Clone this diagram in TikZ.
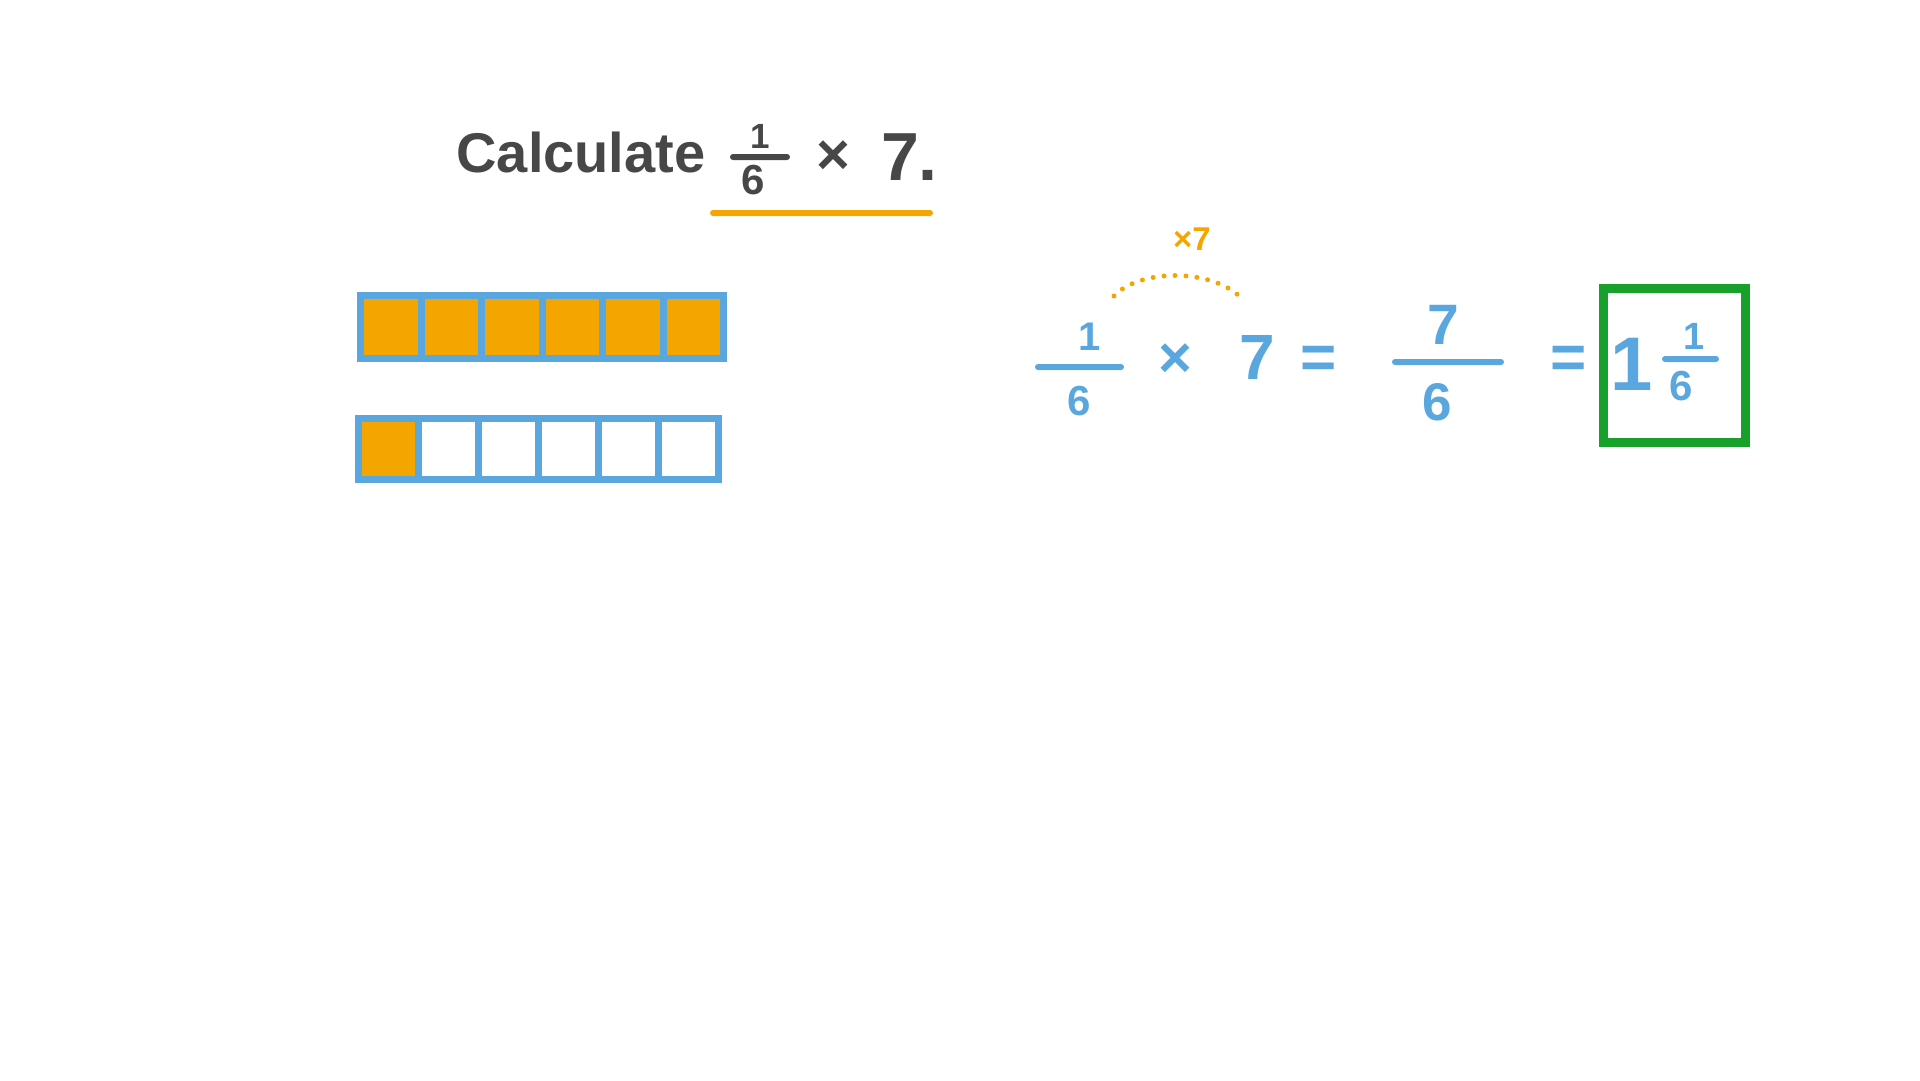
\documentclass[tikz,border=0pt]{standalone}
\usepackage{fontspec}
\setmainfont{Liberation Sans}
\usepackage{tikz}
\usetikzlibrary{positioning}
\definecolor{Chalk}{HTML}{474747}
\definecolor{Sky}{HTML}{5AA6DE}
\definecolor{Gold}{HTML}{F5A500}
\definecolor{Leaf}{HTML}{17A12B}
\tikzset{
 ink/.style={inner sep=0pt,outer sep=0pt},
 headtxt/.style={ink,text=Chalk,font=\bfseries\fontsize{#1}{#1}\selectfont},
 sumtxt/.style={ink,text=Sky,font=\bfseries\fontsize{#1}{#1}\selectfont},
 hinttxt/.style={ink,text=Gold,font=\bfseries\fontsize{#1}{#1}\selectfont},
 cell/.style={draw=Sky,line width=7pt,inner sep=0pt,minimum width=60.5pt,minimum height=63pt},
 fullcell/.style={cell,fill=Gold},
 emptycell/.style={cell,fill=white},
 fracbar/.style={ink,fill=Sky,rounded corners=3pt,minimum height=6pt},
 dots/.style={draw=Gold,line width=5pt,line cap=round,dash pattern=on 0pt off 11pt},
 answerbox/.style={draw=Leaf,line width=9pt,inner sep=0pt,minimum width=142pt,minimum height=154pt}
}

\begin{document}
\begin{tikzpicture}[x=1pt,y=-1pt]
\useasboundingbox (0,0) rectangle (1920,1080);
% question
\node[headtxt=56] (calc) at (581,152) {Calculate};
\node[fracbar,fill=Chalk,minimum width=60pt] (qbar) at (760,157) {};
\node[headtxt=35] (qnum) at (760,136) {1};
\node[headtxt=42] (qden) at (753,180) {6};
\node[headtxt=58] (qmul) at (833,158) {×};
\node[headtxt=68,anchor=west] (qseven) at (881,157.5) {7.};
\node[fracbar,fill=Gold,minimum width=223pt] (uline) at (821.5,213) {};
% bar models
\foreach \i in {1,...,6}
  \node[fullcell] (top\i) at ({360.5+60.5*(\i-0.5)},327) {};
\node[fullcell,minimum width=60pt,minimum height=61pt] (bot1) at (388.5,449) {};
\foreach \i in {2,...,6}
  \node[emptycell,minimum width=60pt,minimum height=61pt] (bot\i) at ({358.5+60*(\i-0.5)},449) {};
% working
\node[fracbar,minimum width=89pt] (abar) at (1079.5,367) {};
\node[sumtxt=40] (anum) at (1090,337) {1};
\node[sumtxt=42] (aden) at (1079,401) {6};
\node[sumtxt=58] (amul) at (1175,361) {×};
\node[sumtxt=64] (aseven) at (1257,357) {7};
\node[sumtxt=62] (eqone) at (1319,362) {=};
\node[fracbar,minimum width=112pt] (bbar) at (1448,362) {};
\node[sumtxt=57] (bnum) at (1443,325) {7};
\node[sumtxt=53] (bden) at (1437,402) {6};
\node[sumtxt=62] (eqtwo) at (1569,362) {=};
\node[answerbox] (answer) at (1674.5,365.5) {};
\node[sumtxt=76] (cwhole) at (1632,364) {1};
\node[fracbar,minimum width=57pt] (cbar) at (1690.5,359) {};
\node[sumtxt=38] (cnum) at (1694,336) {1};
\node[sumtxt=42] (cden) at (1681,386) {6};
% times seven hint
\node[hinttxt=33] (hint) at (1192,239) {×7};
\coordinate (arcL) at (1114,296);
\coordinate (arcR) at (1243,300);
\draw[dots] (arcL) .. controls (1140,268) and (1215,268) .. (arcR);
\end{tikzpicture}
\end{document}
